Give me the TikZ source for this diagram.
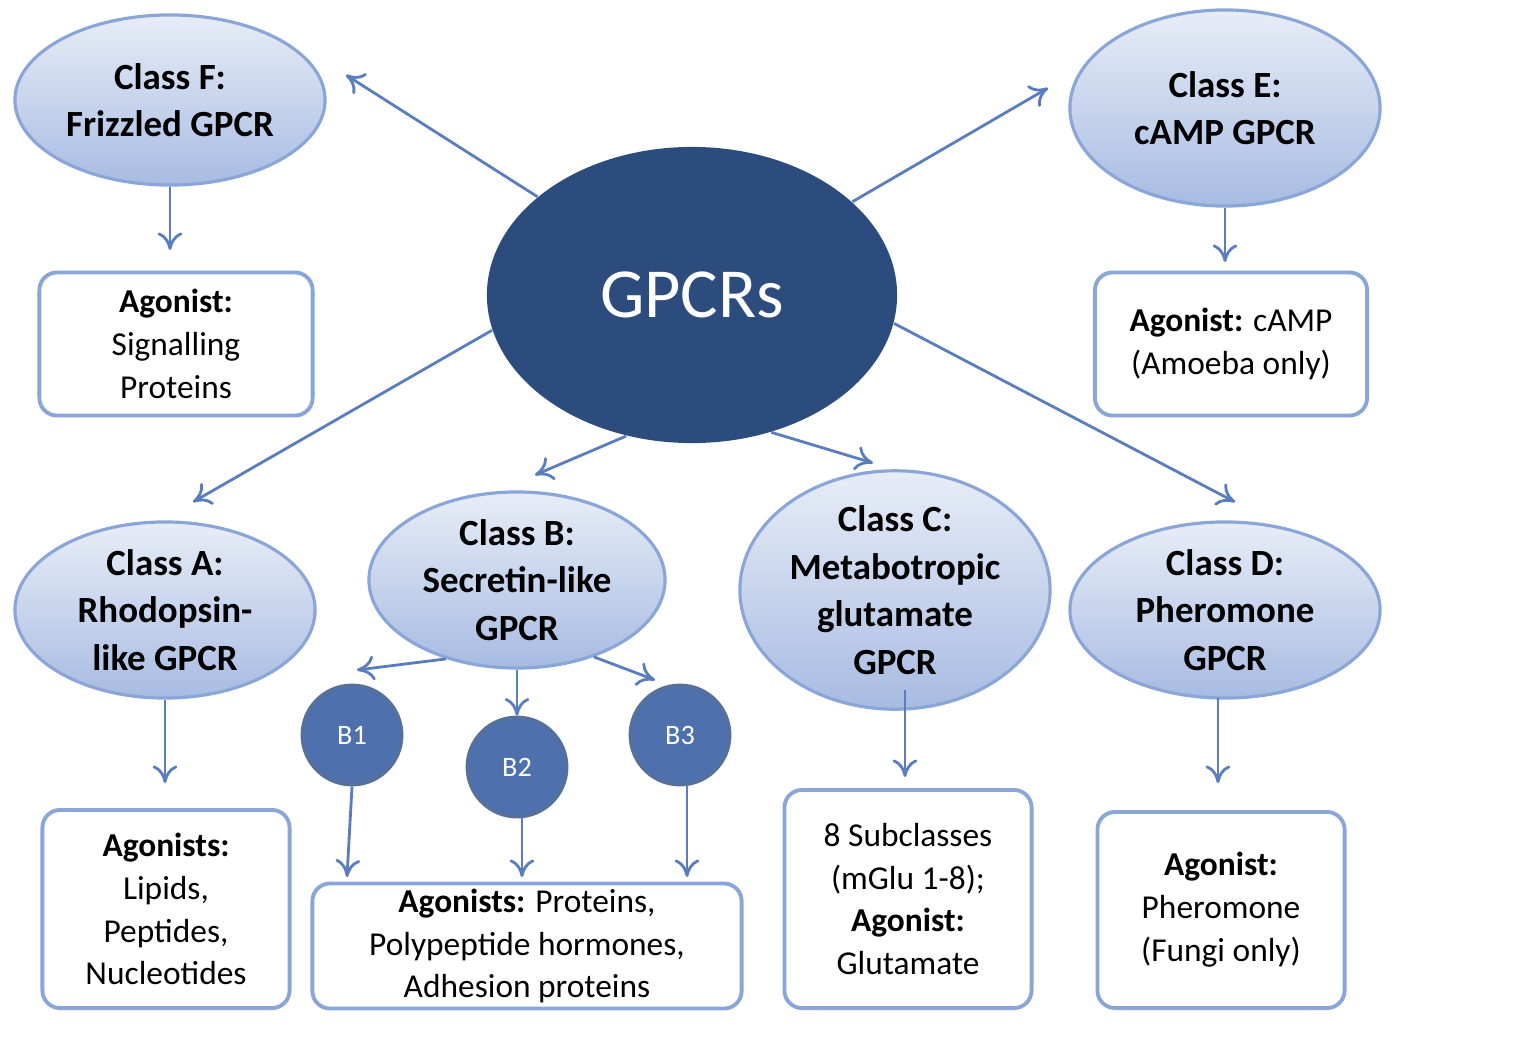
\documentclass[tikz,border=0pt]{standalone}
\usepackage{fontspec}
\setmainfont{Carlito}
\usetikzlibrary{arrows.meta,shapes.geometric}
\definecolor{linkblue}{HTML}{5A7DBD}
\definecolor{ringblue}{HTML}{8AA5D8}
\definecolor{hubblue}{HTML}{2D4C7E}
\definecolor{subblue}{HTML}{4E71AE}
\tikzset{
  cls/.style={ellipse,draw=ringblue,line width=0.9pt,top color=white!80!ringblue,bottom color=ringblue!75,
    align=center,font=\fontsize{10.5}{13.5}\selectfont\bfseries,inner sep=0pt},
  box/.style={draw=ringblue,line width=1.1pt,rounded corners=5pt,fill=white,align=center,
    font=\fontsize{9.5}{12.2}\selectfont,inner sep=0pt},
  sub/.style={circle,draw=hubblue!80,line width=0.8pt,fill=subblue,text=white,
    minimum size=1cm,inner sep=0pt,font=\fontsize{8}{9}\selectfont},
  arr/.style={draw=linkblue,line width=0.8pt,-{To[length=5pt,width=7pt]}}
}
\begin{document}
\begin{tikzpicture}[x=0.01cm,y=-0.01cm]
\useasboundingbox (0,0) rectangle (1536,1042);
% hub
\node[ellipse,fill=hubblue,inner sep=0pt,minimum width=4.1cm,minimum height=2.96cm,
  text=white,font=\fontsize{20}{24}\selectfont] (gpcr) at (692,295) {GPCRs};
% classes
\node[cls,minimum width=3.1cm,minimum height=1.7cm] (clsF) at (170,100) {Class F:\\Frizzled GPCR};
\node[cls,minimum width=3.1cm,minimum height=1.96cm] (clsE) at (1225,108) {Class E:\\cAMP GPCR};
\node[cls,minimum width=3.0cm,minimum height=1.76cm] (clsA) at (165,610) {Class A:\\Rhodopsin-\\like GPCR};
\node[cls,minimum width=2.96cm,minimum height=1.76cm] (clsB) at (517,580) {Class B:\\Secretin-like\\GPCR};
\node[cls,minimum width=3.1cm,minimum height=2.0cm] (clsC) at (895,590) {Class C:\\Metabotropic\\glutamate\\GPCR};
\node[cls,minimum width=3.1cm,minimum height=1.76cm] (clsD) at (1225,610) {Class D:\\Pheromone\\GPCR};
% agonist boxes
\node[box,minimum width=2.73cm,minimum height=1.43cm] (agF) at (176,344) {\textbf{Agonist:}\\Signalling\\Proteins};
\node[box,minimum width=2.72cm,minimum height=1.43cm] (agE) at (1231,344) {\textbf{Agonist:} cAMP\\(Amoeba only)};
\node[box,minimum width=2.47cm,minimum height=1.98cm] (agA) at (166,909) {\textbf{Agonists:}\\Lipids,\\Peptides,\\Nucleotides};
\node[box,minimum width=4.29cm,minimum height=1.25cm] (agB) at (527,946) {\textbf{Agonists:} Proteins,\\Polypeptide hormones,\\Adhesion proteins};
\node[box,minimum width=2.47cm,minimum height=2.18cm] (agC) at (908,899) {8 Subclasses\\(mGlu 1-8);\\\textbf{Agonist:}\\Glutamate};
\node[box,minimum width=2.47cm,minimum height=1.96cm] (agD) at (1221,910) {\textbf{Agonist:}\\Pheromone\\(Fungi only)};
% subfamilies
\node[sub] (b1) at (352,735) {B1};
\node[sub] (b2) at (517,767) {B2};
\node[sub] (b3) at (680,735) {B3};
% free arrow ends
\coordinate (toF) at (346,75);
\coordinate (toE) at (1048,88);
\coordinate (toA) at (193,502);
\coordinate (toB) at (535,475);
\coordinate (toC) at (873,463);
\coordinate (toD) at (1235,502);
\draw[arr] (gpcr) -- (toF);
\draw[arr] (gpcr) -- (toE);
\draw[arr] (gpcr.190) -- (toA);
\draw[arr] (gpcr.245) -- (toB);
\draw[arr] (gpcr.300) -- (toC);
\draw[arr] (gpcr.-8) -- (toD);
% down arrows
\coordinate (fTip) at (170,250);
\coordinate (eTip) at (1225,262);
\coordinate (aTip) at (165,783);
\coordinate (cTip) at (905,777);
\coordinate (dTip) at (1218,783);
\coordinate (cTop) at (905,690);
\coordinate (dTop) at (1218,698);
\draw[arr] (clsF.south) -- (fTip);
\draw[arr] (clsE.south) -- (eTip);
\draw[arr] (clsA.south) -- (aTip);
\draw[arr] (cTop) -- (cTip);
\draw[arr] (dTop) -- (dTip);
% class B branches
\coordinate (b1Tip) at (357,670);
\coordinate (b3Tip) at (655,680);
\draw[arr] (clsB.228) -- (b1Tip);
\draw[arr] (clsB.south) -- (b2.north);
\draw[arr] (clsB.-45) -- (b3Tip);
\coordinate (b1Low) at (347,877);
\coordinate (b2Low) at (522,877);
\coordinate (b3Low) at (687,877);
\coordinate (b2Top) at (522,817);
\coordinate (b3Top) at (687,785);
\draw[arr] (b1.south) -- (b1Low);
\draw[arr] (b2Top) -- (b2Low);
\draw[arr] (b3Top) -- (b3Low);
\end{tikzpicture}
\end{document}
